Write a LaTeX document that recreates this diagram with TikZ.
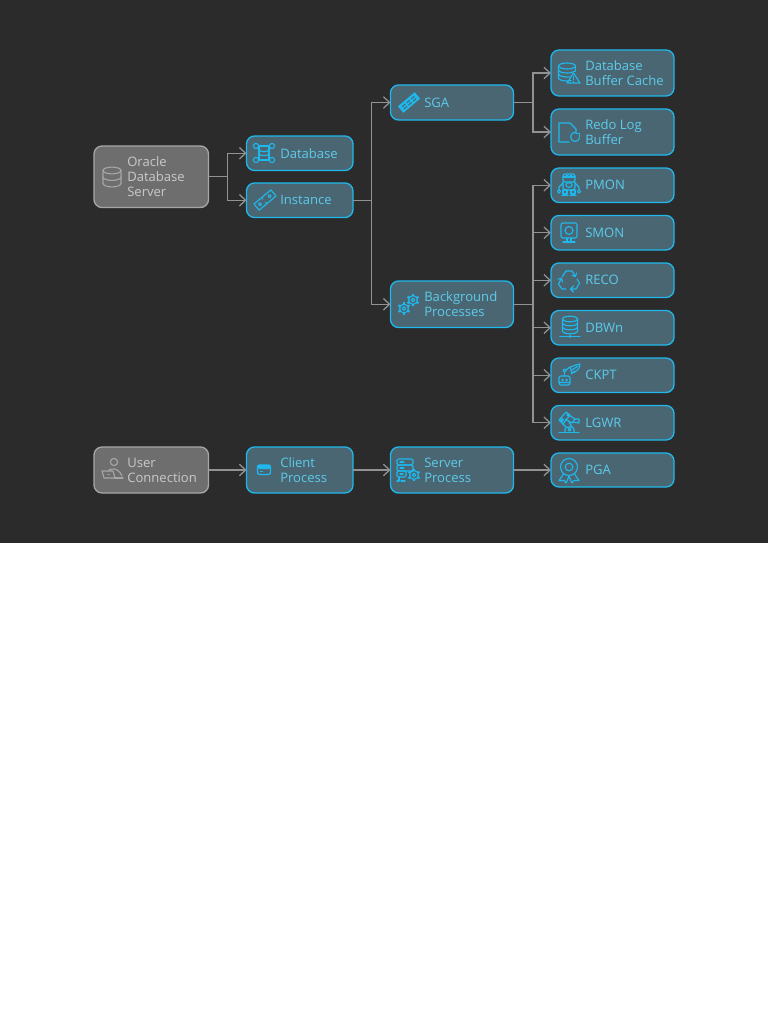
\documentclass[tikz,border=0pt]{standalone}
\usepackage{fontspec}
\setmainfont{Open Sans}
\usetikzlibrary{arrows.meta}
\definecolor{bgd}{HTML}{2B2B2B}
\definecolor{cyb}{HTML}{1FB8EC}
\definecolor{cyf}{HTML}{4B6673}
\definecolor{cyt}{HTML}{5CCBEA}
\definecolor{grf}{HTML}{6E6E6E}
\definecolor{grb}{HTML}{A6A6A6}
\definecolor{grt}{HTML}{C9C9C9}
\definecolor{lnk}{HTML}{929292}
\tikzset{
  x=0.75pt,y=-0.75pt,
  bluebox/.style={draw=cyb,fill=cyf,line width=1pt,rounded corners=6pt,inner sep=0pt,outer sep=0pt},
  graybox/.style={draw=grb,fill=grf,line width=1pt,rounded corners=6pt,inner sep=0pt,outer sep=0pt},
  bluetxt/.style={text=cyt,font=\fontsize{9.8pt}{11.25pt}\selectfont,align=left,anchor=west,inner sep=0pt},
  graytxt/.style={text=grt,font=\fontsize{9.8pt}{11.25pt}\selectfont,align=left,anchor=west,inner sep=0pt},
  conn/.style={draw=lnk,line width=0.95pt,-{Straight Barb[length=4.6pt,width=8.6pt,line width=0.95pt]}},
  ic/.style={draw=cyb,line width=0.85pt,line cap=round,line join=round},
  icg/.style={draw=grb,line width=0.85pt,line cap=round,line join=round},
  pics/cyl/.style={code={
    \draw[#1] (-9,-6.5) arc[start angle=180,end angle=-180,x radius=9,y radius=3.4];
    \draw[#1] (-9,-6.5) -- (-9,6.5) arc[start angle=180,end angle=0,x radius=9,y radius=3.4] -- (9,-6.5);
    \draw[#1] (-9,0) arc[start angle=180,end angle=0,x radius=9,y radius=3.4];
  }},
  pics/netdb/.style={code={
    \foreach \a/\b in {-8/-7,8/-7,-8/7,8/7}{\draw[ic] (\a,\b) circle[radius=2.6];}
    \draw[ic] (-5.5,-7) -- (5.5,-7) (-5.5,7) -- (5.5,7);
    \draw[ic] (-5,-7) -- (-5,7) (5,-7) -- (5,7);
    \draw[ic] (-5,-3) arc[start angle=180,end angle=0,x radius=5,y radius=1.6];
    \draw[ic] (-5,1) arc[start angle=180,end angle=0,x radius=5,y radius=1.6];
  }},
  pics/mem/.style={code={
    \begin{scope}[rotate=40]
      \draw[ic] (-11,-4) rectangle (11,4);
      \draw[ic] (-1,-4) -- (-1,-2) (-1,2) -- (-1,4);
      \draw[ic] (-6.5,0) circle[radius=1.5] (6,0) circle[radius=1.5];
    \end{scope}
  }},
  pics/memf/.style={code={
    \begin{scope}[rotate=40]
      \fill[cyb] (-11,-4.2) rectangle (11,4.2);
      \draw[cyf,line width=0.8pt] (-8,-1.2) -- (-4,-1.2) (-2,-1.2) -- (2,-1.2) (4,-1.2) -- (8,-1.2) (-8,1.6) -- (-4,1.6) (-2,1.6) -- (2,1.6) (4,1.6) -- (8,1.6);
    \end{scope}
  }},
  pics/gear/.style={code={
    \draw[ic] (0,0) circle[radius=4.4];
    \draw[ic] (0,0) circle[radius=1.8];
    \foreach \t in {30,90,...,330}{\draw[ic,line width=1.5pt,line cap=butt] (\t:4.4) -- (\t:6.4);}
  }},
  pics/cache/.style={code={
    \draw[ic] (-8.5,-7) arc[start angle=180,end angle=-180,x radius=8.5,y radius=3];
    \draw[ic] (-8.5,-7) -- (-8.5,5) arc[start angle=180,end angle=60,x radius=8.5,y radius=3];
    \draw[ic] (8.5,-7) -- (8.5,-2);
    \draw[ic] (-8.5,-3) arc[start angle=180,end angle=20,x radius=8.5,y radius=3];
    \draw[ic] (-8.5,1) arc[start angle=180,end angle=70,x radius=8.5,y radius=3];
    \draw[ic] (6.5,0) -- (13,10) -- (0,10) -- cycle;
    \draw[ic] (6.5,3.5) -- (6.5,6.5) (6.5,8.3) -- (6.5,8.5);
  }},
  pics/redo/.style={code={
    \draw[ic] (1,10) -- (-9,10) -- (-9,-9) -- (2,-9) -- (8,-3) -- (8,0);
    \draw[ic] (11.5,5.8) arc[start angle=10,end angle=285,radius=4.5];
    \draw[ic] (8.5,1.5) -- (11.5,1.5) -- (11.5,4.5);
  }},
  pics/robot/.style={code={
    \draw[ic,rounded corners=1.5pt] (-6,-11) rectangle (6,-3);
    \draw[ic] (-6,-8) -- (6,-8) (-3,-9.5) -- (-1,-9.5) (1,-9.5) -- (3,-9.5);
    \draw[ic,rounded corners=2pt] (-6,-3) -- (-6,5) -- (6,5) -- (6,-3);
    \draw[ic] (0,0) circle[x radius=3.2,y radius=2.4];
    \draw[ic] (-6,-2) -- (-10,2) -- (-10,5) (6,-2) -- (10,2) -- (10,5);
    \draw[ic] (-10,6.5) circle[radius=1.6] (10,6.5) circle[radius=1.6];
    \draw[ic] (-6,9) rectangle (-2,5) (2,5) rectangle (6,9);
    \draw[ic] (-7,10.5) -- (-1,10.5) (1,10.5) -- (7,10.5);
  }},
  pics/monitor/.style={code={
    \draw[ic,rounded corners=1.5pt] (-8,-9) rectangle (8,6);
    \draw[ic] (0,-1.5) circle[radius=4];
    \draw[ic] (-2,6) -- (-2,10) (2,6) -- (2,10) (-6,10) -- (6,10);
  }},
  pics/recycle/.style={code={
    \draw[ic] (-7,-3) -- (-3,-9) -- (3,-9) -- (6,-4);
    \draw[ic] (3,-4.5) -- (6.5,-3.5) -- (7.5,-7);
    \draw[ic] (8,-1) -- (10.5,3) -- (7,9) -- (2,9);
    \draw[ic] (4.5,6) -- (1.5,9) -- (4.5,12);
    \draw[ic] (-3,9) -- (-7,9) -- (-10.5,4) -- (-8,-1);
    \draw[ic] (-11,-1) -- (-7.5,-1.5) -- (-6.5,2);
  }},
  pics/dbw/.style={code={
    \draw[ic] (-7.5,-8) arc[start angle=180,end angle=-180,x radius=7.5,y radius=2.8];
    \draw[ic] (-7.5,-8) -- (-7.5,4) arc[start angle=180,end angle=0,x radius=7.5,y radius=2.8] -- (7.5,-8);
    \draw[ic] (-7.5,-4) arc[start angle=180,end angle=0,x radius=7.5,y radius=2.8];
    \draw[ic] (-7.5,0) arc[start angle=180,end angle=0,x radius=7.5,y radius=2.8];
    \draw[ic] (-10,9.5) -- (10,9.5);
    \fill[cyb] (0,9.5) circle[radius=1.5];
  }},
  pics/ckpt/.style={code={
    \draw[ic,rounded corners=1.5pt] (-10,1) rectangle (1,10);
    \draw[ic] (-6.5,5) circle[radius=0.7] (-2.5,5) circle[radius=0.7] (-10,7.5) -- (1,7.5);
    \draw[ic] (-4.5,1) -- (-4.5,-3);
    \draw[ic] (-4.5,-4.5) circle[radius=1.6];
    \draw[ic] (-3,-5) -- (1,-8) (2,-1) -- (6,-4);
    \draw[ic] (1,-8) .. controls (5,-9) and (8,-11) .. (11,-11) .. controls (11,-7) and (8,-3) .. (3,-2) -- cycle;
    \draw[ic] (3,-5) -- (9,-9);
  }},
  pics/arm/.style={code={
    \draw[ic] (-10,10.5) -- (10,10.5);
    \draw[ic,rounded corners=2pt] (-4,10.5) -- (-4,5) -- (5,5) -- (5,10.5);
    \draw[ic] (0.5,7.5) circle[radius=1.5];
    \draw[ic] (-10,-2) -- (-3,-10) -- (1,-7) -- (-6,2) -- cycle;
    \draw[ic] (-7,-2) circle[radius=1.5];
    \draw[ic] (-2,-8) -- (6,-3) -- (3,1) -- (-4,-3);
    \draw[ic] (-1,-7) circle[radius=1];
    \draw[ic] (6,-3) -- (10,-3) (4,0) -- (10,1) (10,-3) -- (10,1);
    \draw[ic] (-6,2) -- (-3,5) (0,0) -- (3,5);
  }},
  pics/badge/.style={code={
    \draw[ic] (0,-3) circle[radius=8.5];
    \draw[ic] (0,-3) circle[radius=3.8];
    \draw[ic] (-5.5,4) -- (-10,10.5) -- (-5,10.5) -- (-3,13) -- (0,6.5);
    \draw[ic] (5.5,4) -- (10,10.5) -- (5,10.5) -- (3,13) -- (0,6.5);
  }},
  pics/usr/.style={code={
    \draw[icg] (2,-8) circle[radius=3.6];
    \draw[icg] (-4,1) .. controls (-2,-2) and (6,-3) .. (10,6);
    \draw[icg] (-10,1) -- (1,1) -- (3,8) -- (-8,8) -- cycle;
    \draw[icg] (-4,4.5) -- (-3,4.5) (3,8) -- (11,8);
  }},
  pics/card/.style={code={
    \draw[ic,rounded corners=1.5pt,line width=1pt] (-6.5,-5) rectangle (6.5,4.5);
    \fill[cyb,rounded corners=1.5pt] (-6.5,-5) rectangle (6.5,-1);
    \draw[ic] (-3.5,1.5) -- (-1.5,1.5);
  }},
  pics/srv/.style={code={
    \draw[ic,rounded corners=1pt] (-9,-11) rectangle (7,-5);
    \draw[ic,rounded corners=1pt] (-9,-5) rectangle (7,1);
    \draw[ic,rounded corners=1pt] (-9,1) rectangle (0,7);
    \draw[ic] (-6,-8) -- (-2,-8) (-6,-2) -- (-2,-2) (-6,4) -- (-3,4);
    \draw[ic] (-9,11) -- (-7,11) (-5,11) -- (-1,11);
    \draw[ic] (-7,7) -- (-7,11);
    \pic at (8,5) {gear};
  }},
}
% \bx{name}{boxstyle}{x1}{y1}{x2}{y2}{textstyle}{textx}{text}
\newcommand{\bx}[9]{%
  \node[#2,minimum width={(#5-#3)*0.75pt},minimum height={(#6-#4)*0.75pt}] (#1) at ({(#3+#5)/2},{(#4+#6)/2}) {};
  \node[#7] (#1t) at (#8,{(#4+#6)/2}) {#9};
}
\newcommand{\elbow}[3]{\draw[conn] (#1.east) -- ++(#3,0) |- (#2.west);}
\begin{document}
\begin{tikzpicture}
\useasboundingbox (0,0) rectangle (768,1024);
\fill[white] (0,0) rectangle (768,1024);
\fill[bgd] (0,0) rectangle (768,543);

\bx{oracle}{graybox}{94}{146}{208.5}{207.5}{graytxt}{127}{Oracle\\Database\\Server}
\bx{dbase}{bluebox}{246.5}{136}{353}{170.5}{bluetxt}{280}{Database}
\bx{inst}{bluebox}{246.5}{183}{353}{217.5}{bluetxt}{280}{Instance}
\bx{sga}{bluebox}{390.5}{85}{513.5}{120}{bluetxt}{424}{SGA}
\bx{bgp}{bluebox}{390.5}{281}{513.5}{327.5}{bluetxt}{424}{Background\\Processes}
\bx{cache}{bluebox}{551}{50}{674}{96}{bluetxt}{585}{Database\\Buffer Cache}
\bx{redo}{bluebox}{551}{109}{674}{155}{bluetxt}{585}{Redo Log\\Buffer}
\bx{pmon}{bluebox}{551}{168}{674}{202.5}{bluetxt}{585}{PMON}
\bx{smon}{bluebox}{551}{215.5}{674}{250}{bluetxt}{585}{SMON}
\bx{reco}{bluebox}{551}{263}{674}{297.5}{bluetxt}{585}{RECO}
\bx{dbwn}{bluebox}{551}{310.5}{674}{345}{bluetxt}{585}{DBWn}
\bx{ckpt}{bluebox}{551}{358}{674}{392.5}{bluetxt}{585}{CKPT}
\bx{lgwr}{bluebox}{551}{405.5}{674}{440}{bluetxt}{585}{LGWR}
\bx{pga}{bluebox}{551}{453}{674}{487}{bluetxt}{585}{PGA}
\bx{user}{graybox}{94}{447}{208.5}{493}{graytxt}{127}{User\\Connection}
\bx{client}{bluebox}{246.5}{447}{353}{493}{bluetxt}{280}{Client\\Process}
\bx{server}{bluebox}{390.5}{447}{513.5}{493}{bluetxt}{424}{Server\\Process}

\elbow{oracle}{dbase}{19}
\elbow{oracle}{inst}{19}
\elbow{inst}{sga}{18.5}
\elbow{inst}{bgp}{18.5}
\elbow{sga}{cache}{19.5}
\elbow{sga}{redo}{19.5}
\elbow{bgp}{pmon}{19.5}
\elbow{bgp}{smon}{19.5}
\elbow{bgp}{reco}{19.5}
\elbow{bgp}{dbwn}{19.5}
\elbow{bgp}{ckpt}{19.5}
\elbow{bgp}{lgwr}{19.5}
\draw[conn] (user.east) -- (client.west);
\draw[conn] (client.east) -- (server.west);
\draw[conn] (server.east) -- (pga.west);

\pic at (112,177) {cyl=icg};
\pic at (264,153) {netdb};
\pic at (265,200) {mem};
\pic at (409,102.5) {memf};
\pic at (413,300) {gear};
\pic at (404,308.5) {gear};
\pic at (567,73) {cache};
\pic at (568,132) {redo};
\pic at (569,185) {robot};
\pic at (569,232) {monitor};
\pic at (569,280) {recycle};
\pic at (570,327) {dbw};
\pic at (569,375) {ckpt};
\pic at (569,422) {arm};
\pic at (569,470) {badge};
\pic at (112,470) {usr};
\pic at (264,470) {card};
\pic at (406,470) {srv};
\end{tikzpicture}
\end{document}
